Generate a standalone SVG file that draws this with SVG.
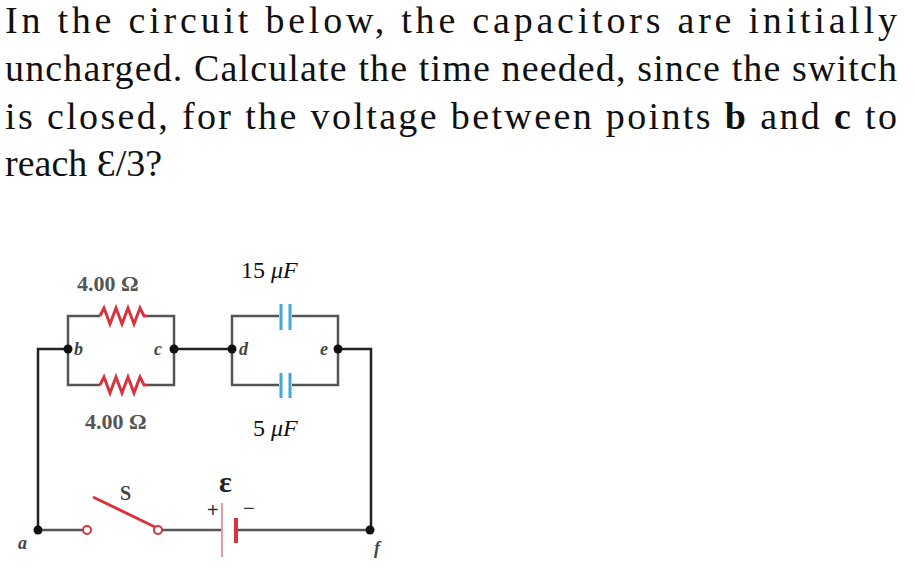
<svg xmlns="http://www.w3.org/2000/svg" width="916" height="582" viewBox="0 0 916 582">
<style>
.q{font-family:"Liberation Serif",serif;font-size:38px;fill:#111}
.w{stroke:#555;stroke-width:2.5;fill:none}
.wk{stroke:#222;stroke-width:2.5;fill:none}
.lbl{font-family:"Liberation Serif",serif;font-weight:bold;font-size:22px;fill:#555}
.cap{font-family:"Liberation Serif",serif;font-size:24px;fill:#111}
.pt{font-family:"Liberation Serif",serif;font-style:italic;font-weight:bold;font-size:18px;fill:#444}
.res{stroke:#d8333f;stroke-width:3;fill:none}
.cp{stroke:#3fa6e0;stroke-width:3}
</style>
<rect width="916" height="582" fill="#fff"/>
<g id="question">
<text class="q" x="5" y="33" textLength="892" lengthAdjust="spacing">In the circuit below, the capacitors are initially</text>
<text class="q" x="5" y="81" textLength="892" lengthAdjust="spacing">uncharged. Calculate the time needed, since the switch</text>
<text class="q" x="5" y="129" textLength="892" lengthAdjust="spacing">is closed, for the voltage between points <tspan font-weight="bold">b</tspan> and <tspan font-weight="bold">c</tspan> to</text>
<text class="q" x="5" y="176">reach Ɛ/3?</text>
</g>
<g id="connectors">
<path class="wk" d="M38 529 V349 H68 M174 349 H232 M338 349 H371 V530"/>
<path class="w" d="M68 349 V316 H100 M147 316 H174 V385 H147 M100 385 H68 V349"/>
<path class="w" d="M232 349 V316 H279 M292 316 H338 V385 H292 M279 385 H232 V349"/>
<path class="w" d="M38 530 H83 M162 530 H222 M236 530 H371"/>
</g>
<g id="r1"><polyline class="res" points="100,316 104,308 110,324 116,308 122,324 128,308 134,324 140,308 144,316 147,316"/><text class="lbl" x="77" y="291">4.00 Ω</text></g>
<g id="r2"><polyline class="res" points="100,385 104,377 110,393 116,377 122,393 128,377 134,393 140,377 144,385 147,385"/><text class="lbl" x="85" y="429">4.00 Ω</text></g>
<g id="c1"><line class="cp" x1="281" y1="304" x2="281" y2="330"/><line class="cp" x1="290" y1="304" x2="290" y2="330"/><text class="cap" x="241" y="278">15 <tspan font-style="italic">μF</tspan></text></g>
<g id="c2"><line class="cp" x1="281" y1="373" x2="281" y2="398"/><line class="cp" x1="290" y1="373" x2="290" y2="398"/><text class="cap" x="253" y="436">5 <tspan font-style="italic">μF</tspan></text></g>
<g id="nodes">
<circle cx="68" cy="349" r="4.5" fill="#111"/><text class="pt" x="74" y="355">b</text>
<circle cx="174" cy="349" r="4.5" fill="#111"/><text class="pt" x="154" y="355">c</text>
<circle cx="232" cy="349" r="4.5" fill="#111"/><text class="pt" x="239" y="355">d</text>
<circle cx="338" cy="349" r="4.5" fill="#111"/><text class="pt" x="320" y="355">e</text>
<circle cx="38" cy="530" r="4.5" fill="#111"/><text class="pt" x="18" y="549">a</text>
<circle cx="370" cy="530" r="4.5" fill="#111"/><text class="pt" x="374" y="554">f</text>
</g>
<g id="switch">
<circle cx="87" cy="530" r="4" fill="#fff" stroke="#d8333f" stroke-width="2"/>
<circle cx="158" cy="530" r="4" fill="#fff" stroke="#d8333f" stroke-width="2"/>
<line x1="155" y1="527" x2="93" y2="497" stroke="#d8333f" stroke-width="3"/>
<text x="120" y="500" font-family="Liberation Serif,serif" font-weight="bold" font-size="20" fill="#444">S</text>
</g>
<g id="battery">
<line x1="222" y1="503" x2="222" y2="557" stroke="#e89aa6" stroke-width="2"/>
<line x1="236" y1="518" x2="236" y2="543" stroke="#d8333f" stroke-width="4"/>
<text x="207" y="517" font-family="Liberation Sans,sans-serif" font-size="20" fill="#333">+</text>
<text x="243" y="515" font-family="Liberation Sans,sans-serif" font-size="20" fill="#333">−</text>
<text x="219" y="492" font-family="Liberation Serif,serif" font-weight="bold" font-size="30" fill="#222">ε</text>
</g>
</svg>
